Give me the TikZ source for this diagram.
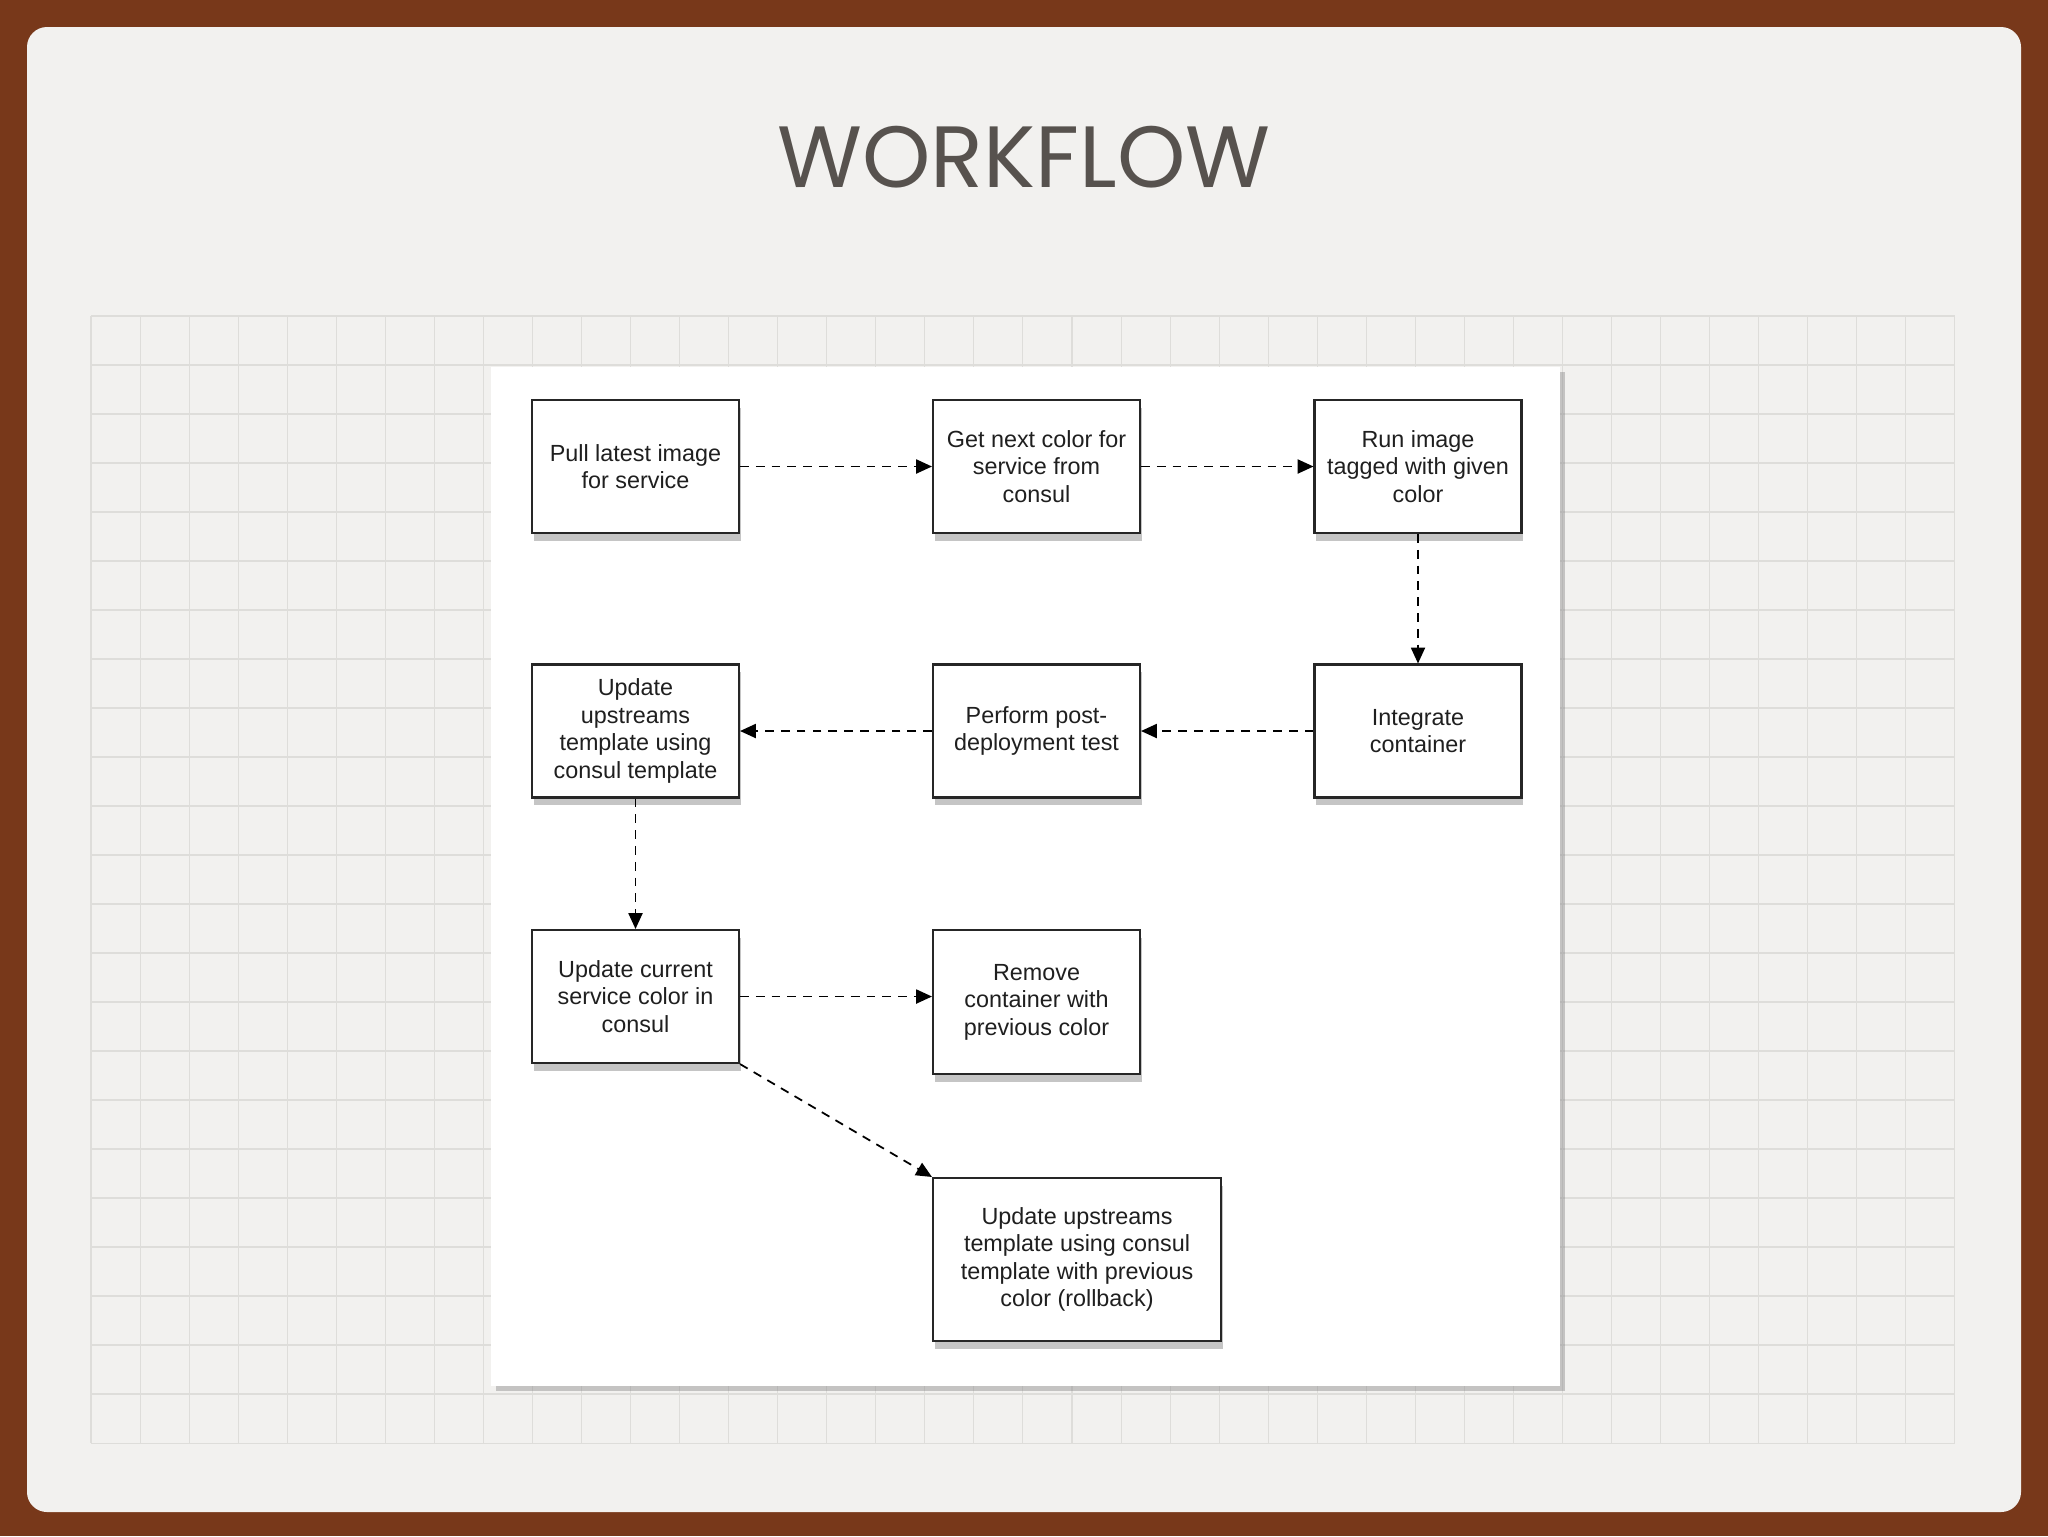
\documentclass[tikz,border=0pt]{standalone}
\usepackage{fontspec}
\setmainfont{Liberation Sans}
\newfontfamily\titlefont{Poppins}
\usetikzlibrary{positioning,arrows.meta,shadows}
\definecolor{framebrown}{HTML}{78381A}
\definecolor{paper}{HTML}{F2F1EF}
\definecolor{gridgray}{HTML}{DEDDDA}
\definecolor{titlegray}{HTML}{57524E}

\begin{document}
\begin{tikzpicture}[x=0.02cm,y=-0.02cm,>={Triangle[length=9pt,width=8pt]},
  stepbox/.style={draw=black!85,line width=1.2pt,fill=white,minimum width=4.14cm,minimum height=2.66cm,
    inner sep=0pt,align=center,text=black!88,font=\fontsize{13.3}{15.6}\selectfont,
    drop shadow={shadow xshift=1pt,shadow yshift=-4.5pt,opacity=0.45}},
  flow/.style={->,line width=1pt,dash pattern=on 5pt off 4pt},
  gridline/.style={draw=gridgray,line width=0.6pt}]
\useasboundingbox (0,0) rectangle (2048,1536);
\fill[framebrown] (0,0) rectangle (2048,1536);
\fill[paper,rounded corners=0.4cm] (27,27) rectangle (2021,1512);
\foreach \i in {0,...,38} \draw[gridline] ({91+49.05*\i},316) -- ({91+49.05*\i},1443);
\foreach \j in {0,...,23} \draw[gridline] (91,{316+49*\j}) -- (1955,{316+49*\j});
\node[font=\titlefont\fontsize{49.5}{49.5}\selectfont,text=titlegray,inner sep=0pt] (title) at (1024,157) {WORKFLOW};
\fill[white,drop shadow={shadow xshift=3pt,shadow yshift=-3pt,opacity=0.4}] (491,367) rectangle (1560,1386);

\node[stepbox] (pull) at (635.5,466.5) {Pull latest image\\for service};
\node[stepbox] (color) at (1036.5,466.5) {Get next color for\\service from\\consul};
\node[stepbox] (run) at (1418,466.5) {Run image\\tagged with given\\color};
\node[stepbox] (integ) at (1418,731) {Integrate\\container};
\node[stepbox] (test) at (1036.5,731) {Perform post-\\deployment test};
\node[stepbox] (upstr) at (635.5,731) {Update\\upstreams\\template using\\consul template};
\node[stepbox] (current) at (635.5,996.5) {Update current\\service color in\\consul};
\node[stepbox,minimum height=2.88cm] (remove) at (1036.5,1002) {Remove\\container with\\previous color};
\node[stepbox,minimum width=5.76cm,minimum height=3.26cm] (rollback) at (1077,1259.5) {Update upstreams\\template using consul\\template with previous\\color (rollback)};

\draw[flow] (pull) -- (color);
\draw[flow] (color) -- (run);
\draw[flow] (run) -- (integ);
\draw[flow] (integ) -- (test);
\draw[flow] (test) -- (upstr);
\draw[flow] (upstr) -- (current);
\draw[flow] (current.east) -- (current.east -| remove.west);
\draw[flow] (current.south east) -- (rollback.north west);
\end{tikzpicture}
\end{document}
